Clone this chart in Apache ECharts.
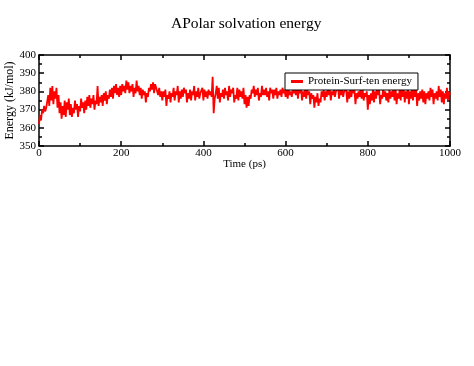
<!DOCTYPE html>
<html><head><meta charset="utf-8">
<script src="https://cdn.jsdelivr.net/npm/echarts@6/dist/echarts.min.js"></script>
<style>html,body{margin:0;padding:0;background:#fff}#c{width:474px;height:366px}</style>
</head><body><div id="c"></div>
<script>
var title = "APolar solvation energy";
var seriesName = "Protein-Surf-ten energy";
var xName = "Time (ps)";
var yName = "Energy (kJ/mol)";
var timeStep = 2.5;
var energy = [
362,367,364,370,368,372,369,371,370,378,372,382,375,383,373,380,376,382,371,378,
368,374,365,372,367,375,366,374,370,376,367,373,366,371,368,375,370,373,366,372,
369,376,371,374,368,375,370,377,372,378,371,376,373,378,370,375,373,383,372,377,
374,378,372,379,375,380,373,378,376,381,377,382,376,383,379,384,378,382,377,383,
378,384,380,383,379,386,381,385,379,383,380,384,377,382,379,386,380,383,378,382,
376,381,378,380,374,379,377,382,380,384,381,385,379,384,382,383,378,382,377,380,
375,380,377,381,372,378,376,380,374,379,377,382,375,380,378,383,374,380,376,381,
377,382,379,381,374,379,376,381,375,380,378,383,375,380,377,382,376,379,378,382,
375,381,377,380,376,381,378,380,377,388,368,376,379,383,376,382,374,379,377,381,
376,382,378,380,375,383,377,381,379,382,374,378,376,382,375,381,377,380,376,382,
373,378,371,377,372,378,376,381,379,383,377,381,378,382,375,379,377,383,378,381,
378,382,377,380,375,382,379,381,376,381,378,382,376,380,378,381,377,382,379,381,
377,382,376,381,378,380,377,381,379,382,378,384,376,381,379,382,375,380,377,381,
376,381,378,380,373,379,376,378,371,377,374,379,372,376,374,380,377,381,375,380,
377,382,378,381,375,380,378,381,377,380,379,383,376,381,378,382,377,380,379,381,
374,380,376,381,377,382,379,381,373,379,376,380,377,382,376,381,375,379,377,380,
370,378,373,379,375,381,374,380,376,382,378,381,373,378,376,382,377,380,375,379,
374,381,376,380,377,383,375,382,373,379,376,381,375,382,377,381,374,380,376,382,
373,380,376,381,375,382,377,381,372,379,375,380,376,381,374,380,373,379,376,380,
375,382,377,381,373,379,376,380,375,383,377,381,374,380,373,379,376,382,375,380,
378
];
var data = energy.map(function(v,i){return [i*timeStep, v];});
var font = "Liberation Serif";
var chart = echarts.init(document.getElementById('c'), null, {renderer:'canvas'});
var axLine = {show:true, onZero:false, lineStyle:{color:'#000', width:1.5}};
var tick = {inside:true, length:5, lineStyle:{color:'#000', width:1.5}};
var minor = {show:true, splitNumber:2, length:3, lineStyle:{color:'#000', width:1.5}};
chart.setOption({
  animation:false,
  backgroundColor:'#fff',
  title:{text:title, left:171, top:16, padding:0, textStyle:{fontFamily:font, fontWeight:'normal', fontSize:15.5, color:'#000'}},
  legend:{data:[{name:seriesName, icon:'rect'}], left:285, top:73, itemWidth:12, itemHeight:3, itemGap:4,
    padding:[3,6,3,6], backgroundColor:'#fff', borderColor:'#000', borderWidth:1, borderRadius:0,
    textStyle:{fontFamily:font, fontSize:11, color:'#000'}, z:10},
  grid:{left:39, right:24, top:55, bottom:220, containLabel:false, outerBoundsMode:'none'},
  xAxis:[{type:'value', position:'bottom', min:0, max:1000, interval:200, name:xName, nameLocation:'middle', nameGap:13, nameMoveOverlap:false,
    nameTextStyle:{fontFamily:font, fontSize:11, color:'#000'},
    axisLine:axLine, axisTick:tick, minorTick:minor,
    axisLabel:{fontFamily:font, fontSize:11, color:'#000', margin:2, formatter:function(v){return String(v);}}, splitLine:{show:false}},
    {type:'value', position:'top', min:0, max:1000, interval:200,
    axisLine:axLine, axisTick:tick, minorTick:minor,
    axisLabel:{show:false}, splitLine:{show:false}}],
  yAxis:[{type:'value', position:'left', min:350, max:400, interval:10, name:yName, nameLocation:'middle', nameGap:23, nameMoveOverlap:false,
    nameTextStyle:{fontFamily:font, fontSize:12, color:'#000'},
    axisLine:axLine, axisTick:tick, minorTick:minor,
    axisLabel:{fontFamily:font, fontSize:11, color:'#000', margin:3}, splitLine:{show:false}},
    {type:'value', position:'right', min:350, max:400, interval:10,
    axisLine:axLine, axisTick:tick, minorTick:minor,
    axisLabel:{show:false}, splitLine:{show:false}}],
  series:[{name:seriesName, type:'line', data:data, showSymbol:false, symbol:'none',
    lineStyle:{color:'#ff0000', width:1.8}, itemStyle:{color:'#ff0000'}, z:2}]
});
</script></body></html>
